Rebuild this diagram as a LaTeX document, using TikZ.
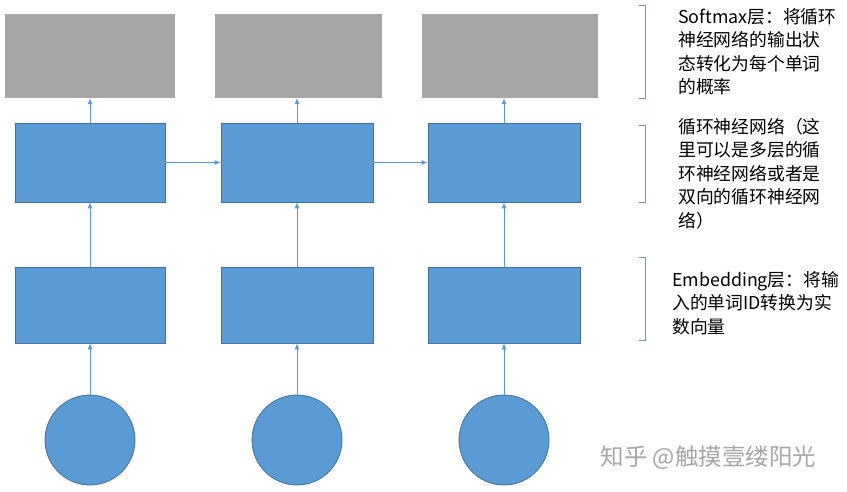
\documentclass[tikz,border=0pt]{standalone}
\usepackage{fontspec}
\setmainfont{Noto Sans CJK SC}
\usetikzlibrary{arrows.meta}
\begin{document}
\begin{tikzpicture}[x=1pt,y=-1pt,
 bfill/.style={fill={rgb,255:red,91;green,155;blue,213},draw={rgb,255:red,65;green,113;blue,156},line width=0.8pt},
 arr/.style={draw={rgb,255:red,91;green,155;blue,213},line width=0.8pt,-{Latex[length=6pt,width=5pt]}},
 brk/.style={draw={rgb,255:red,120;green,150;blue,180},line width=0.7pt},
 lbl/.style={anchor=north west,align=left,font=\fontsize{17.8}{23.5}\selectfont,inner sep=0pt}]
\useasboundingbox (0,0) rectangle (847,492);
\fill[white] (0,0) rectangle (847,492);
\foreach \i/\cx/\gl/\gr/\bl/\br in {1/90/5/175/15/165, 2/297/215/382/221/373, 3/504/422/598/428/580}{
  \node[fill={rgb,255:red,166;green,166;blue,166},minimum width={\gr-\gl},minimum height=84,inner sep=0] (g\i) at ({(\gl+\gr)/2},56) {};
  \node[bfill,minimum width={\br-\bl},minimum height=79,inner sep=0] (r\i) at (\cx,162.5) {};
  \node[bfill,minimum width={\br-\bl},minimum height=76,inner sep=0] (e\i) at (\cx,305) {};
  \node[bfill,circle,minimum size=90,inner sep=0] (c\i) at (\cx,440) {};
  \draw[arr] (c\i) -- (e\i);
  \draw[arr] (e\i) -- (r\i);
  \draw[arr] (r\i) -- (r\i.north |- g\i.south);
}
\draw[arr] (r1) -- (r2);
\draw[arr] (r2) -- (r3);
\draw[brk] (639,5) -- (645,5) -- (645,98) -- (639,98);
\draw[brk] (639,125) -- (645,125) -- (645,202) -- (639,202);
\draw[brk] (639,257) -- (645,257) -- (645,340) -- (639,340);
\node[lbl] (t1) at (678,8) {Softmax层：将循环\\神经网络的输出状\\态转化为每个单词\\的概率};
\node[lbl] (t2) at (678,118) {循环神经网络（这\\里可以是多层的循\\环神经网络或者是\\双向的循环神经网\\络）};
\node[lbl] (t3) at (672,271) {Embedding层：将输\\入的单词ID转换为实\\数向量};
\node[anchor=west,text=black!35,font=\fontsize{23.5}{26}\selectfont] (wm) at (597,458) {知乎 @触摸壹缕阳光};
\end{tikzpicture}
\end{document}
